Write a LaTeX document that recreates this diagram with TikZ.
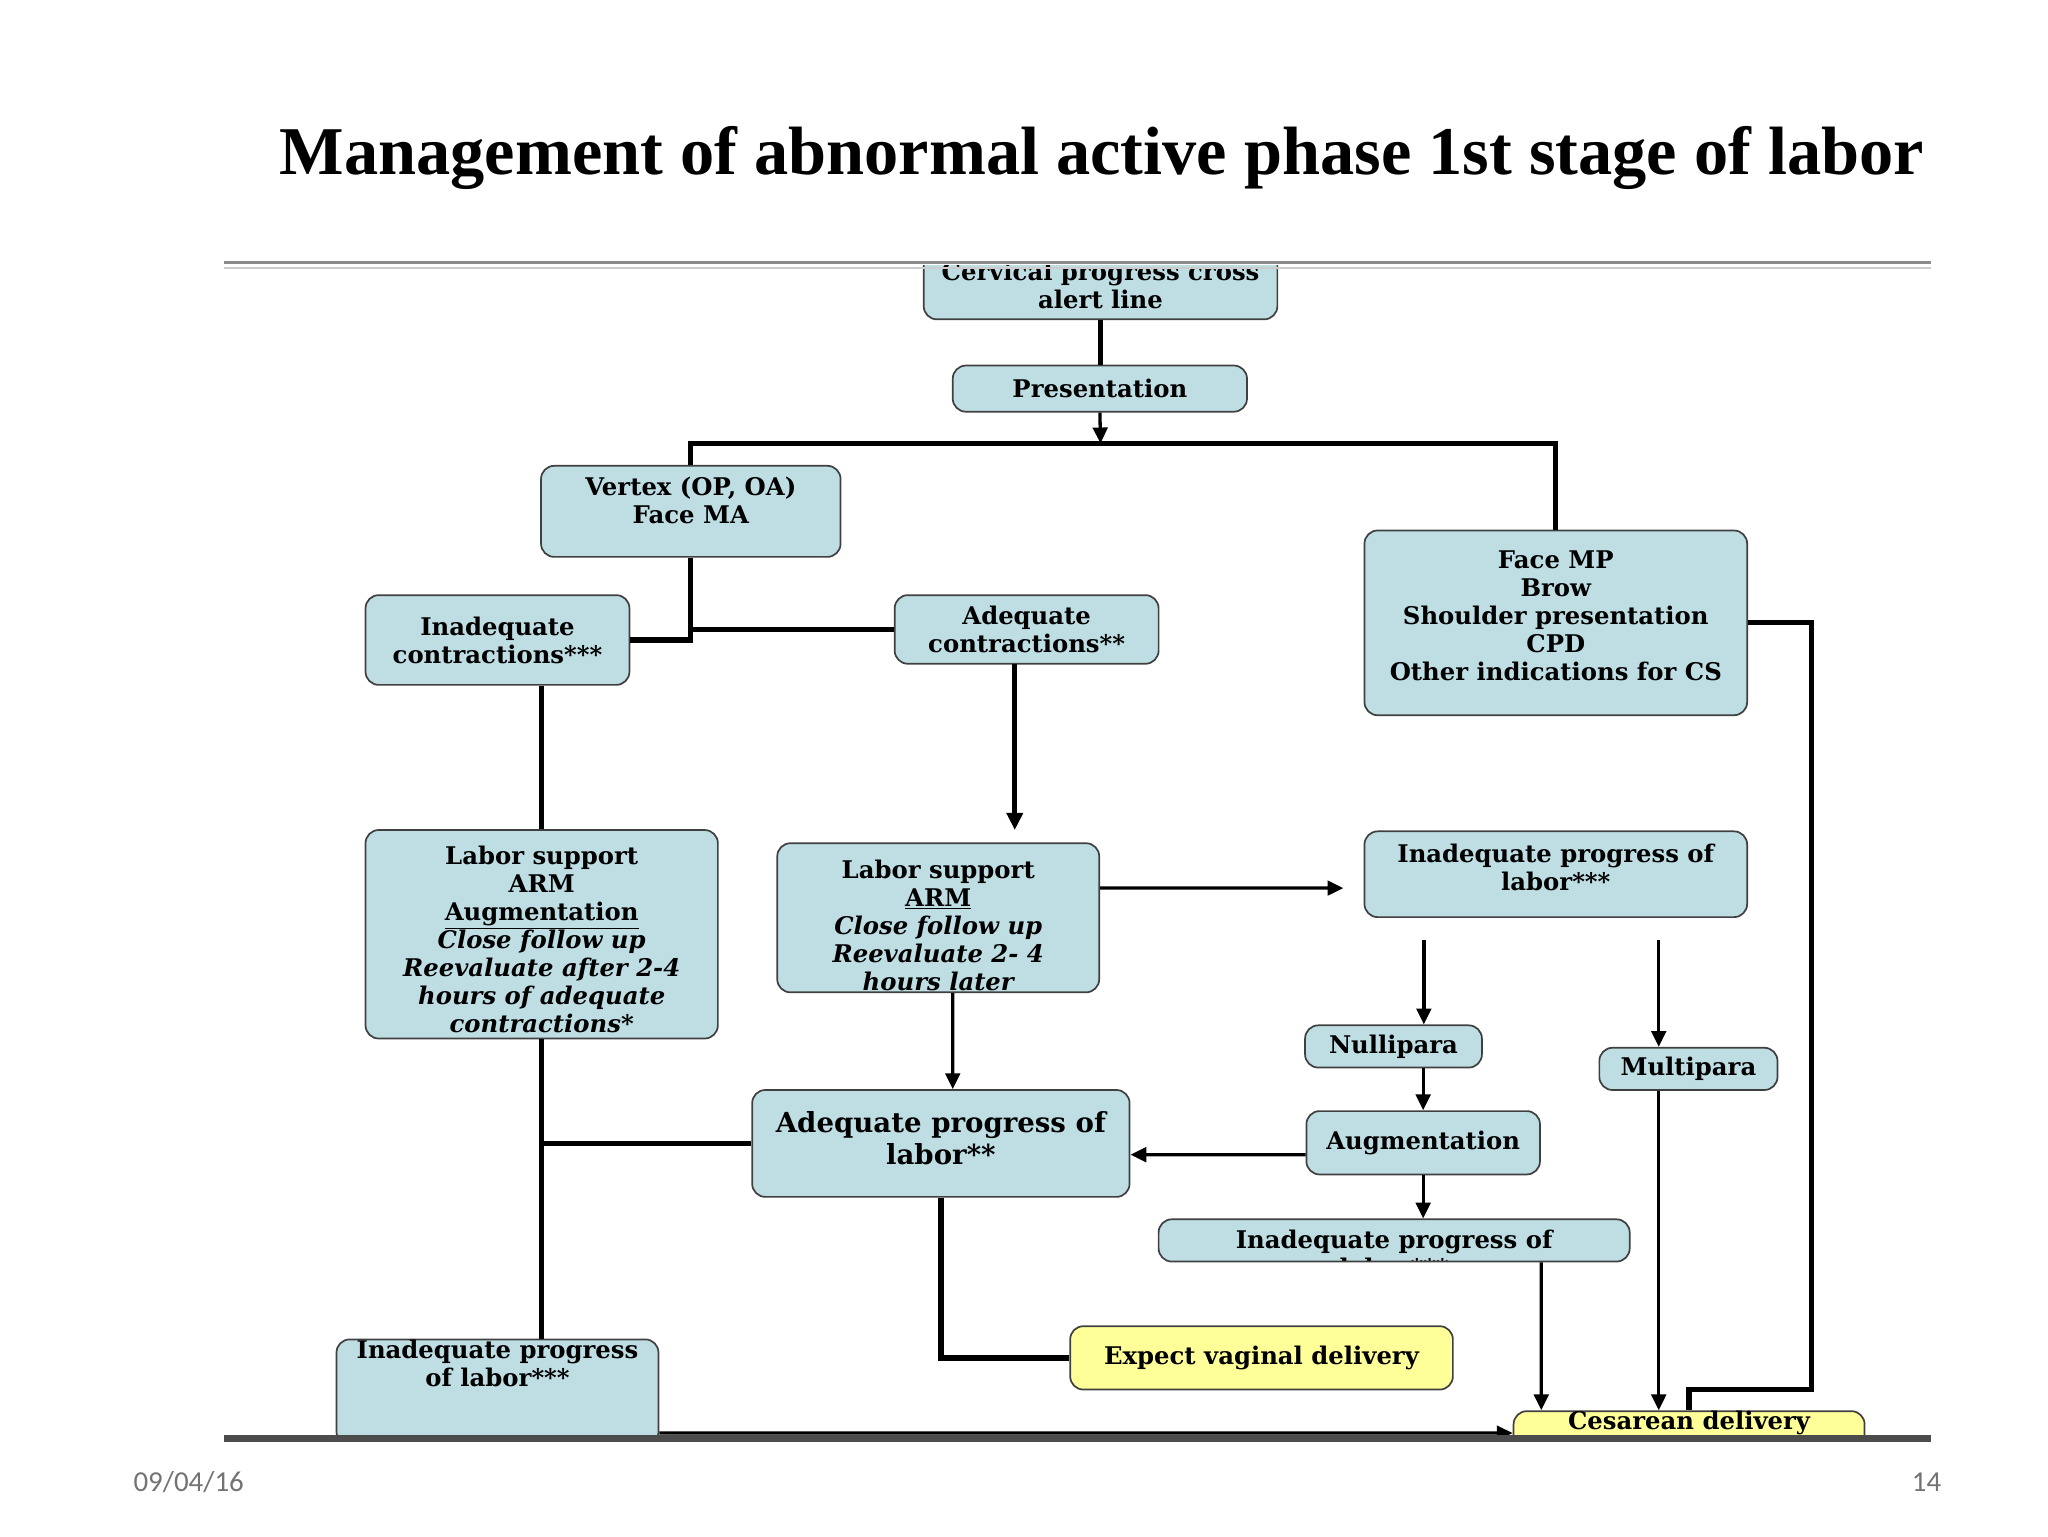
\documentclass[tikz,border=0pt]{standalone}
\usepackage{fontspec}
\setmainfont{Liberation Serif}
\newfontfamily\boxfam{DejaVu Serif}
\newfontfamily\footfam{Carlito}
\usetikzlibrary{arrows.meta}
\definecolor{boxc}{RGB}{190,222,228}
\definecolor{yelc}{RGB}{255,255,153}
\newcommand{\bx}{\boxfam\bfseries\fontsize{18.5}{21.3}\selectfont}
\tikzset{
  box/.style={draw=black!75, line width=1.3bp, rounded corners=10bp, fill=boxc,
    inner sep=0pt, align=center, font=\bx},
  ybox/.style={box, fill=yelc},
  wire/.style={line width=4bp},
  arr/.style={line width=2.5bp, -{Triangle[length=12bp,width=11bp]}},
  tarr/.style={line width=4bp, -{Triangle[length=13bp,width=12bp]}},
  cuttext/.style={align=center, font=\bx, inner sep=0pt}
}
\begin{document}
\begin{tikzpicture}[x=1bp,y=-1bp]
\useasboundingbox (0,0) rectangle (1552,1164);

\node[font=\bfseries\fontsize{52}{58}\selectfont] (title) at (835,120)
  {Management of abnormal active phase 1st stage of labor};
\node[font=\footfam\fontsize{22}{24}\selectfont, text=black!55] (date) at (143,1123) {09/04/16};
\node[font=\footfam\fontsize{22}{24}\selectfont, text=black!55] (page) at (1460,1123) {14};

\begin{scope}
\clip (170,201) rectangle (1463,1089);

% boxes
\node[box, minimum width=268bp, minimum height=52bp] (cerv) at (834,216)
  {Cervical progress cross\\alert line};
\node[box, minimum width=223bp, minimum height=35bp] (pres) at (833.5,294.5) {Presentation};
\node[box, minimum width=227bp, minimum height=69bp] (vert) at (523.5,387.5)
  {Vertex (OP, OA)\\Face MA\\[-4bp]};
\node[box, minimum width=290bp, minimum height=140bp] (face) at (1179,472)
  {Face MP\\Brow\\Shoulder presentation\\CPD\\Other indications for CS\\[-10bp]};
\node[box, minimum width=200bp, minimum height=68bp] (inc) at (377,485)
  {Inadequate\\contractions***};
\node[box, minimum width=200bp, minimum height=52bp] (adc) at (778,477)
  {Adequate\\contractions**};
\node[box, minimum width=267bp, minimum height=158bp,
  path picture={\node[cuttext] at ([yshift=-4bp]path picture bounding box.center)
  {Labor support\\ARM\\\underline{Augmentation}\\\itshape Close follow up\\
   \itshape Reevaluate after 2-4\\\itshape hours of adequate\\\itshape contractions*};}]
  (lsl) at (410.5,708) {};
\node[box, minimum width=244bp, minimum height=113bp,
  path picture={\node[cuttext] at ([yshift=-5.5bp]path picture bounding box.center)
  {Labor support\\\underline{ARM}\\\itshape Close follow up\\
   \itshape Reevaluate 2- 4\\\itshape hours later};}]
  (lsm) at (711,695.5) {};
\node[box, minimum width=290bp, minimum height=65bp] (ipr) at (1179,662.5)
  {Inadequate progress of\\labor***\\[-10bp]};
\node[box, minimum width=134bp, minimum height=32bp] (null) at (1056,793) {Nullipara};
\node[box, minimum width=135bp, minimum height=32bp] (multi) at (1279.5,810) {Multipara};
\node[box, minimum width=177bp, minimum height=48bp] (aug) at (1078.5,866)
  {Augmentation\\[-18bp]};
\node[box, minimum width=286bp, minimum height=81bp,
  font=\boxfam\bfseries\fontsize{21}{24}\selectfont] (adp) at (713,866.5)
  {Adequate progress of\\labor**\\[-16bp]};
\node[box, minimum width=357bp, minimum height=32bp,
  path picture={\node[cuttext] at ([yshift=-10bp]path picture bounding box.center)
  {Inadequate progress of\\labor***};}]
  (ipo) at (1056.5,940) {};
\node[ybox, minimum width=290bp, minimum height=48bp] (exp) at (956,1029)
  {Expect vaginal delivery\\[-18bp]};
\node[box, minimum width=244bp, minimum height=80bp] (ipb) at (377,1055)
  {Inadequate progress\\of labor***\\[22bp]};
\node[ybox, minimum width=266bp, minimum height=38bp] (ces) at (1280,1090)
  {Cesarean delivery\\[6bp]};

% helper coordinates
\coordinate (jn) at (834,336);
\coordinate (a1s) at (769,503);
\coordinate (a1e) at (769,629);
\coordinate (a2e) at (1018,673);
\coordinate (n1) at (1079,712);
\coordinate (m1) at (1257,712);
\coordinate (fr) at (1373,1053);

% connectors
\draw[wire] (cerv.south) -- (cerv.south |- pres.north);
\draw[arr] (pres.south) -- (jn);
\draw[wire] (vert.north) |- (jn) -| (face.north);
\draw[wire] (vert.south) |- (inc.east);
\draw[wire] (vert.south |- adc.west) -- (adc.west);
\draw[tarr] (a1s) -- (a1e);
\draw[wire] (inc.south -| lsl.north) -- (lsl.north);
\draw[wire] (lsl.south) -- (lsl.south |- ipb.north);
\draw[wire] (lsl.south |- adp.west) -- (adp.west);
\draw[arr] ([xshift=11bp]lsm.south) -- ([xshift=9bp]adp.north);
\draw[arr] ([yshift=22.5bp]lsm.east) -- (a2e);
\draw[arr] (n1) -- (n1 |- null.north);
\draw[arr] (m1) -- (m1 |- multi.north);
\draw[arr] (aug.north |- null.south) -- (aug.north);
\draw[arr] ([yshift=-9bp]aug.west) -- ([yshift=-8.5bp]adp.east);
\draw[arr] (aug.south) -- (aug.south |- ipo.north);
\draw[arr] ([xshift=111.5bp]ipo.south) -- ([xshift=-112bp]ces.north);
\draw[arr] ([xshift=-22.5bp]multi.south) -- ([xshift=-23bp]ces.north);
\draw[wire] (face.east) -| (fr) -| (ces.north);
\draw[wire] (adp.south) |- (exp.west);
\draw[arr] ([yshift=-31bp]ipb.east) -- ([yshift=4bp]ces.west);
\end{scope}

% frame rules
\draw[black!45, line width=2bp] (170,199) -- (1463,199);
\draw[black!20, line width=1.5bp] (170,203) -- (1463,203);
\draw[black!70, line width=5bp] (170,1090) -- (1463,1090);
\end{tikzpicture}
\end{document}
